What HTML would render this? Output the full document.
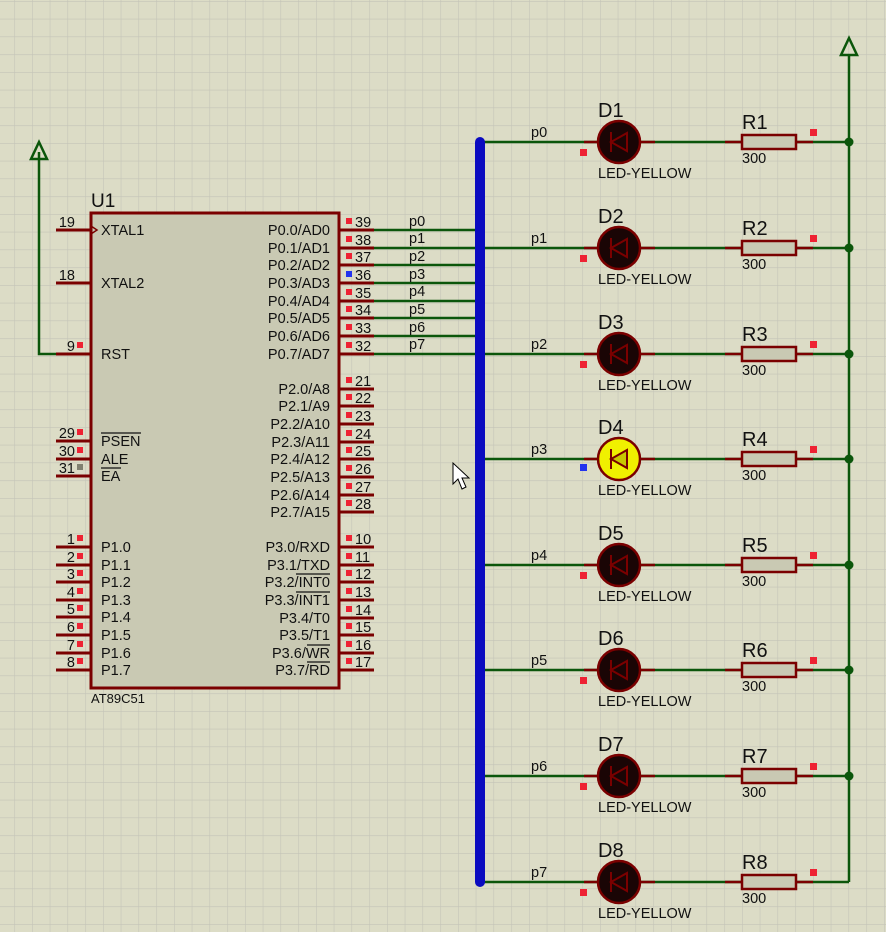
<!DOCTYPE html>
<html><head><meta charset="utf-8"><style>
html,body{margin:0;padding:0;background:#dcdcc6;}
svg{display:block;font-family:"Liberation Sans",sans-serif;}
</style></head><body>
<svg width="886" height="932" viewBox="0 0 886 932" xmlns="http://www.w3.org/2000/svg">
<defs>
<pattern id="g" x="14.25" y="1" width="17.75" height="17.75" patternUnits="userSpaceOnUse">
<path d="M0 0H17.75M0 0V17.75" stroke="#c4c4b8" stroke-width="1.2" fill="none"/>
</pattern>
</defs>
<rect width="886" height="932" fill="#dcdcc6"/>
<rect width="886" height="932" fill="url(#g)"/>

<!-- chip -->
<rect x="91" y="213" width="248" height="475" fill="#c9c9b3" stroke="#7a0000" stroke-width="3"/>
<text x="91" y="207" font-size="19" fill="#111">U1</text>
<text x="91" y="703" font-size="13" fill="#111">AT89C51</text>

<g stroke="#7a0000" stroke-width="3">
<line x1="56" y1="230" x2="91" y2="230"/><line x1="56" y1="283" x2="91" y2="283"/><line x1="56" y1="354" x2="91" y2="354"/>
<line x1="56" y1="441" x2="91" y2="441"/><line x1="56" y1="459" x2="91" y2="459"/><line x1="56" y1="476" x2="91" y2="476"/>
<line x1="56" y1="547" x2="91" y2="547"/><line x1="56" y1="565" x2="91" y2="565"/><line x1="56" y1="582" x2="91" y2="582"/><line x1="56" y1="600" x2="91" y2="600"/>
<line x1="56" y1="617" x2="91" y2="617"/><line x1="56" y1="635" x2="91" y2="635"/><line x1="56" y1="653" x2="91" y2="653"/><line x1="56" y1="670" x2="91" y2="670"/>
<line x1="339" y1="230" x2="374" y2="230"/><line x1="339" y1="248" x2="374" y2="248"/><line x1="339" y1="265" x2="374" y2="265"/><line x1="339" y1="283" x2="374" y2="283"/>
<line x1="339" y1="301" x2="374" y2="301"/><line x1="339" y1="318" x2="374" y2="318"/><line x1="339" y1="336" x2="374" y2="336"/><line x1="339" y1="354" x2="374" y2="354"/>
<line x1="339" y1="389" x2="374" y2="389"/><line x1="339" y1="406" x2="374" y2="406"/><line x1="339" y1="424" x2="374" y2="424"/><line x1="339" y1="442" x2="374" y2="442"/>
<line x1="339" y1="459" x2="374" y2="459"/><line x1="339" y1="477" x2="374" y2="477"/><line x1="339" y1="495" x2="374" y2="495"/><line x1="339" y1="512" x2="374" y2="512"/>
<line x1="339" y1="547" x2="374" y2="547"/><line x1="339" y1="565" x2="374" y2="565"/><line x1="339" y1="582" x2="374" y2="582"/><line x1="339" y1="600" x2="374" y2="600"/>
<line x1="339" y1="618" x2="374" y2="618"/><line x1="339" y1="635" x2="374" y2="635"/><line x1="339" y1="653" x2="374" y2="653"/><line x1="339" y1="670" x2="374" y2="670"/>
</g>
<polygon points="91,226 97,230 91,234" fill="none" stroke="#7a0000" stroke-width="1.5"/>

<!-- left pin numbers -->
<g font-size="14.5" fill="#111" text-anchor="end">
<text x="75" y="227">19</text><text x="75" y="280">18</text><text x="75" y="351">9</text>
<text x="75" y="438">29</text><text x="75" y="456">30</text><text x="75" y="473">31</text>
<text x="75" y="544">1</text><text x="75" y="562">2</text><text x="75" y="579">3</text><text x="75" y="597">4</text>
<text x="75" y="614">5</text><text x="75" y="632">6</text><text x="75" y="650">7</text><text x="75" y="667">8</text>
</g>
<g fill="#ee2233">
<rect x="77" y="342" width="6" height="6"/><rect x="77" y="429" width="6" height="6"/><rect x="77" y="447" width="6" height="6"/>
<rect x="77" y="535" width="6" height="6"/><rect x="77" y="553" width="6" height="6"/><rect x="77" y="570" width="6" height="6"/><rect x="77" y="588" width="6" height="6"/>
<rect x="77" y="605" width="6" height="6"/><rect x="77" y="623" width="6" height="6"/><rect x="77" y="641" width="6" height="6"/><rect x="77" y="658" width="6" height="6"/>
</g>
<rect x="77" y="464" width="6" height="6" fill="#808070"/>

<!-- left labels -->
<g font-size="14.5" fill="#111">
<text x="101" y="235">XTAL1</text><text x="101" y="288">XTAL2</text><text x="101" y="359">RST</text>
<text x="101" y="446">PSEN</text><text x="101" y="464">ALE</text><text x="101" y="481">EA</text>
<text x="101" y="552">P1.0</text><text x="101" y="570">P1.1</text><text x="101" y="587">P1.2</text><text x="101" y="605">P1.3</text>
<text x="101" y="622">P1.4</text><text x="101" y="640">P1.5</text><text x="101" y="658">P1.6</text><text x="101" y="675">P1.7</text>
</g>
<line x1="101" y1="433" x2="141" y2="433" stroke="#111" stroke-width="1.2"/>
<line x1="101" y1="468" x2="121" y2="468" stroke="#111" stroke-width="1.2"/>

<!-- right labels -->
<g font-size="14.5" fill="#111" text-anchor="end">
<text x="330" y="235">P0.0/AD0</text><text x="330" y="253">P0.1/AD1</text><text x="330" y="270">P0.2/AD2</text><text x="330" y="288">P0.3/AD3</text>
<text x="330" y="306">P0.4/AD4</text><text x="330" y="323">P0.5/AD5</text><text x="330" y="341">P0.6/AD6</text><text x="330" y="359">P0.7/AD7</text>
<text x="330" y="394">P2.0/A8</text><text x="330" y="411">P2.1/A9</text><text x="330" y="429">P2.2/A10</text><text x="330" y="447">P2.3/A11</text>
<text x="330" y="464">P2.4/A12</text><text x="330" y="482">P2.5/A13</text><text x="330" y="500">P2.6/A14</text><text x="330" y="517">P2.7/A15</text>
<text x="330" y="552">P3.0/RXD</text><text x="330" y="570">P3.1/TXD</text><text x="330" y="587">P3.2/INT0</text><text x="330" y="605">P3.3/INT1</text>
<text x="330" y="623">P3.4/T0</text><text x="330" y="640">P3.5/T1</text><text x="330" y="658">P3.6/WR</text><text x="330" y="675">P3.7/RD</text>
</g>
<g stroke="#111" stroke-width="1.2">
<line x1="296" y1="574" x2="330" y2="574"/><line x1="296" y1="592" x2="330" y2="592"/>
<line x1="307" y1="645" x2="330" y2="645"/><line x1="307" y1="662" x2="330" y2="662"/>
</g>

<!-- right pin numbers -->
<g font-size="14.5" fill="#111">
<text x="355" y="227">39</text><text x="355" y="245">38</text><text x="355" y="262">37</text><text x="355" y="280">36</text>
<text x="355" y="298">35</text><text x="355" y="315">34</text><text x="355" y="333">33</text><text x="355" y="351">32</text>
<text x="355" y="386">21</text><text x="355" y="403">22</text><text x="355" y="421">23</text><text x="355" y="439">24</text>
<text x="355" y="456">25</text><text x="355" y="474">26</text><text x="355" y="492">27</text><text x="355" y="509">28</text>
<text x="355" y="544">10</text><text x="355" y="562">11</text><text x="355" y="579">12</text><text x="355" y="597">13</text>
<text x="355" y="615">14</text><text x="355" y="632">15</text><text x="355" y="650">16</text><text x="355" y="667">17</text>
</g>
<g fill="#ee2233">
<rect x="346" y="218" width="6" height="6"/><rect x="346" y="236" width="6" height="6"/><rect x="346" y="253" width="6" height="6"/>
<rect x="346" y="289" width="6" height="6"/><rect x="346" y="306" width="6" height="6"/><rect x="346" y="324" width="6" height="6"/><rect x="346" y="342" width="6" height="6"/>
<rect x="346" y="377" width="6" height="6"/><rect x="346" y="394" width="6" height="6"/><rect x="346" y="412" width="6" height="6"/><rect x="346" y="430" width="6" height="6"/>
<rect x="346" y="447" width="6" height="6"/><rect x="346" y="465" width="6" height="6"/><rect x="346" y="483" width="6" height="6"/><rect x="346" y="500" width="6" height="6"/>
<rect x="346" y="535" width="6" height="6"/><rect x="346" y="553" width="6" height="6"/><rect x="346" y="570" width="6" height="6"/><rect x="346" y="588" width="6" height="6"/>
<rect x="346" y="606" width="6" height="6"/><rect x="346" y="623" width="6" height="6"/><rect x="346" y="641" width="6" height="6"/><rect x="346" y="658" width="6" height="6"/>
</g>
<rect x="346" y="271" width="6" height="6" fill="#2233ee"/>

<!-- chip-side wires -->
<g stroke="#0b560b" stroke-width="2.5">
<line x1="374" y1="230" x2="480" y2="230"/><line x1="374" y1="248" x2="480" y2="248"/><line x1="374" y1="265" x2="480" y2="265"/><line x1="374" y1="283" x2="480" y2="283"/>
<line x1="374" y1="301" x2="480" y2="301"/><line x1="374" y1="318" x2="480" y2="318"/><line x1="374" y1="336" x2="480" y2="336"/><line x1="374" y1="354" x2="480" y2="354"/>
<polyline points="56,354 39,354 39,152" fill="none"/>
<line x1="849" y1="54" x2="849" y2="882"/>
</g>
<g font-size="14.5" fill="#111">
<text x="409" y="226">p0</text><text x="409" y="243">p1</text><text x="409" y="261">p2</text><text x="409" y="279">p3</text>
<text x="409" y="296">p4</text><text x="409" y="314">p5</text><text x="409" y="332">p6</text><text x="409" y="349">p7</text>
</g>
<polygon points="39,142 31,159 47,159" fill="none" stroke="#0b560b" stroke-width="2.5"/>
<polygon points="849,38 841,55 857,55" fill="none" stroke="#0b560b" stroke-width="2.5"/>

<!-- LED rows -->
<g stroke="#0b560b" stroke-width="2.5">
<line x1="480" y1="142" x2="849" y2="142"/><line x1="480" y1="248" x2="849" y2="248"/><line x1="480" y1="354" x2="849" y2="354"/><line x1="480" y1="459" x2="849" y2="459"/>
<line x1="480" y1="565" x2="849" y2="565"/><line x1="480" y1="670" x2="849" y2="670"/><line x1="480" y1="776" x2="849" y2="776"/><line x1="480" y1="882" x2="849" y2="882"/>
</g>
<g fill="#0b560b">
<circle cx="849" cy="142" r="4.5"/><circle cx="849" cy="248" r="4.5"/><circle cx="849" cy="354" r="4.5"/><circle cx="849" cy="459" r="4.5"/>
<circle cx="849" cy="565" r="4.5"/><circle cx="849" cy="670" r="4.5"/><circle cx="849" cy="776" r="4.5"/>
</g>
<g font-size="14.5" fill="#111">
<text x="531" y="137">p0</text><text x="531" y="243">p1</text><text x="531" y="349">p2</text><text x="531" y="454">p3</text>
<text x="531" y="560">p4</text><text x="531" y="665">p5</text><text x="531" y="771">p6</text><text x="531" y="877">p7</text>
</g>

<g id="led1" transform="translate(0,142)">
<line x1="584" y1="0" x2="655" y2="0" stroke="#7a0000" stroke-width="2.5"/>
<circle cx="619" cy="0" r="21" fill="#1a0505" stroke="#7a0000" stroke-width="2.5"/>
<polygon points="611,0 627,-9 627,9" fill="none" stroke="#7a0000" stroke-width="2"/>
<line x1="611" y1="-10" x2="611" y2="10" stroke="#7a0000" stroke-width="2"/>
<line x1="725" y1="0" x2="813" y2="0" stroke="#7a0000" stroke-width="2.5"/>
<rect x="742" y="-7" width="54" height="14" fill="#c9c9b3" stroke="#7a0000" stroke-width="2.5"/>
<rect x="580" y="7" width="7" height="7" fill="#ee2233"/><rect x="810" y="-13" width="7" height="7" fill="#ee2233"/>
</g>
<use href="#led1" transform="translate(0,106)"/>
<use href="#led1" transform="translate(0,212)"/>
<g transform="translate(0,459)">
<line x1="584" y1="0" x2="655" y2="0" stroke="#7a0000" stroke-width="2.5"/>
<circle cx="619" cy="0" r="21" fill="#f0f000" stroke="#7a0000" stroke-width="2.5"/>
<polygon points="611,0 627,-9 627,9" fill="#c8c800" stroke="#7a0000" stroke-width="2"/>
<line x1="611" y1="-10" x2="611" y2="10" stroke="#7a0000" stroke-width="2"/>
<line x1="725" y1="0" x2="813" y2="0" stroke="#7a0000" stroke-width="2.5"/>
<rect x="742" y="-7" width="54" height="14" fill="#c9c9b3" stroke="#7a0000" stroke-width="2.5"/>
<rect x="580" y="5" width="7" height="7" fill="#2233ee"/><rect x="810" y="-13" width="7" height="7" fill="#ee2233"/>
</g>
<use href="#led1" transform="translate(0,423)"/>
<use href="#led1" transform="translate(0,528)"/>
<use href="#led1" transform="translate(0,634)"/>
<use href="#led1" transform="translate(0,740)"/>

<g fill="#111">
<g font-size="20">
<text x="598" y="117">D1</text><text x="598" y="223">D2</text><text x="598" y="329">D3</text><text x="598" y="434">D4</text>
<text x="598" y="540">D5</text><text x="598" y="645">D6</text><text x="598" y="751">D7</text><text x="598" y="857">D8</text>
<text x="742" y="129">R1</text><text x="742" y="235">R2</text><text x="742" y="341">R3</text><text x="742" y="446">R4</text>
<text x="742" y="552">R5</text><text x="742" y="657">R6</text><text x="742" y="763">R7</text><text x="742" y="869">R8</text>
</g>
<g font-size="14.5">
<text x="598" y="178">LED-YELLOW</text><text x="598" y="284">LED-YELLOW</text><text x="598" y="390">LED-YELLOW</text><text x="598" y="495">LED-YELLOW</text>
<text x="598" y="601">LED-YELLOW</text><text x="598" y="706">LED-YELLOW</text><text x="598" y="812">LED-YELLOW</text><text x="598" y="918">LED-YELLOW</text>
<text x="742" y="163">300</text><text x="742" y="269">300</text><text x="742" y="375">300</text><text x="742" y="480">300</text>
<text x="742" y="586">300</text><text x="742" y="691">300</text><text x="742" y="797">300</text><text x="742" y="903">300</text>
</g>
</g>

<!-- bus -->
<line x1="480" y1="142" x2="480" y2="882" stroke="#0a0ac0" stroke-width="10" stroke-linecap="round"/>

<!-- cursor -->
<polygon points="453,463 453,484 458,479 462,489 466,487 462,478 469,478" fill="#fff" stroke="#000" stroke-width="1"/>
</svg>
</body></html>
